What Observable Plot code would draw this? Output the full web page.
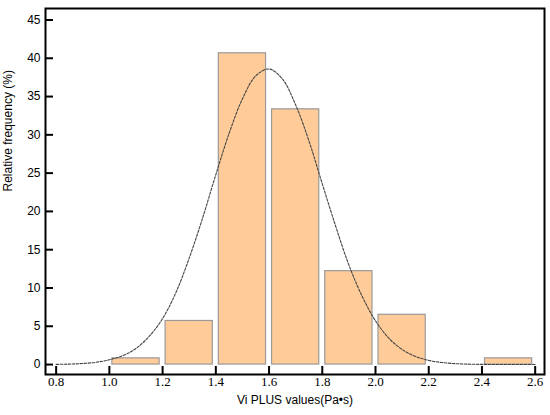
<!DOCTYPE html>
<html>
<head>
<meta charset="utf-8">
<script src="https://cdn.jsdelivr.net/npm/d3@7"></script>
<script src="https://cdn.jsdelivr.net/npm/@observablehq/plot@0.6"></script>
<style>
  html, body { margin: 0; padding: 0; background: #fff; }
  #chart { width: 550px; height: 415px; }
</style>
</head>
<body>
<div id="chart"></div>
<script>
// Histogram bins (Pa·s) and relative frequency (%)
const binStart = [1.0, 1.2, 1.4, 1.6, 1.8, 2.0, 2.4];
const binEnd   = [1.2, 1.4, 1.6, 1.8, 2.0, 2.2, 2.6];
const freq     = [0.81, 5.69, 40.65, 33.33, 12.20, 6.50, 0.81];

// Fitted curve
const curveX = [0.80,0.85,0.90,0.95,1.00,1.05,1.10,1.15,1.20,1.25,1.30,1.35,1.40,1.45,1.50,1.55,1.60,
                1.65,1.70,1.75,1.80,1.85,1.90,1.95,2.00,2.05,2.10,2.15,2.20,2.25,2.30,2.35,2.40,2.45,2.50,2.55,2.60];
const curveY = [0.02,0.06,0.14,0.30,0.62,1.15,2.1,3.7,6.0,9.4,13.9,19.1,24.8,30.2,34.7,37.7,38.6,
                37.3,33.9,29.2,23.6,18.1,13.0,8.9,5.7,3.45,1.97,1.06,0.54,0.26,0.12,0.05,0.02,0.01,0.0,0.0,0.0];

const xTicks = [0.8, 1.0, 1.2, 1.4, 1.6, 1.8, 2.0, 2.2, 2.4, 2.6];
const yTicks = [0, 5, 10, 15, 20, 25, 30, 35, 40, 45];

const xLabel = "Vi PLUS values(Pa•s)";
const yLabel = "Relative frequency (%)";

const bars = binStart.map((s, i) => ({x1: s, x2: binEnd[i], y: freq[i]}));
const curve = curveX.map((x, i) => ({x, y: curveY[i]}));
const fmt = d3.format(".1f");

const chart = Plot.plot({
  width: 550,
  height: 415,
  marginLeft: 45,
  marginRight: 6,
  marginTop: 8,
  marginBottom: 41,
  style: {fontFamily: "Liberation Sans, Arial, sans-serif", background: "#fff", color: "#000"},
  x: {type: "linear", domain: [0.76, 2.635], axis: null},
  y: {type: "linear", domain: [-1.3, 46.5], axis: null},
  marks: [
    Plot.rect(bars, {x1: "x1", x2: "x2", y1: 0, y2: "y", fill: "#FFCC99", stroke: "#9a9a9a", strokeWidth: 1.2, insetLeft: 3, insetRight: 3}),
    Plot.line(curve, {x: "x", y: "y", stroke: "#444", strokeWidth: 1.1, strokeDasharray: "2.5,1.5", curve: "catmull-rom"}),
    Plot.axisY(yTicks, {tickSize: 0, tickPadding: 5, fontSize: 12, label: null}),
    Plot.axisY(yTicks, {tickSize: 8, dx: 8, tickFormat: () => "", strokeWidth: 2, label: null}),
    Plot.axisX(xTicks, {tickSize: 8, dy: -8, tickFormat: () => "", strokeWidth: 2, label: null}),
    Plot.text(xTicks, {x: d => d, frameAnchor: "bottom", dy: 11, fontSize: 13, fontFamily: "'Liberation Serif', 'Times New Roman', serif", text: d => fmt(d), fill: "#000"}),
    Plot.frame({stroke: "#000", strokeWidth: 2}),
    Plot.text([xLabel], {frameAnchor: "bottom", dy: 29, fontSize: 12, text: d => d, fill: "#000"}),
    Plot.text([yLabel], {frameAnchor: "left", dx: -37, rotate: -90, fontSize: 12, text: d => d, fill: "#000"})
  ]
});
document.getElementById("chart").appendChild(chart);
</script>
</body>
</html>
